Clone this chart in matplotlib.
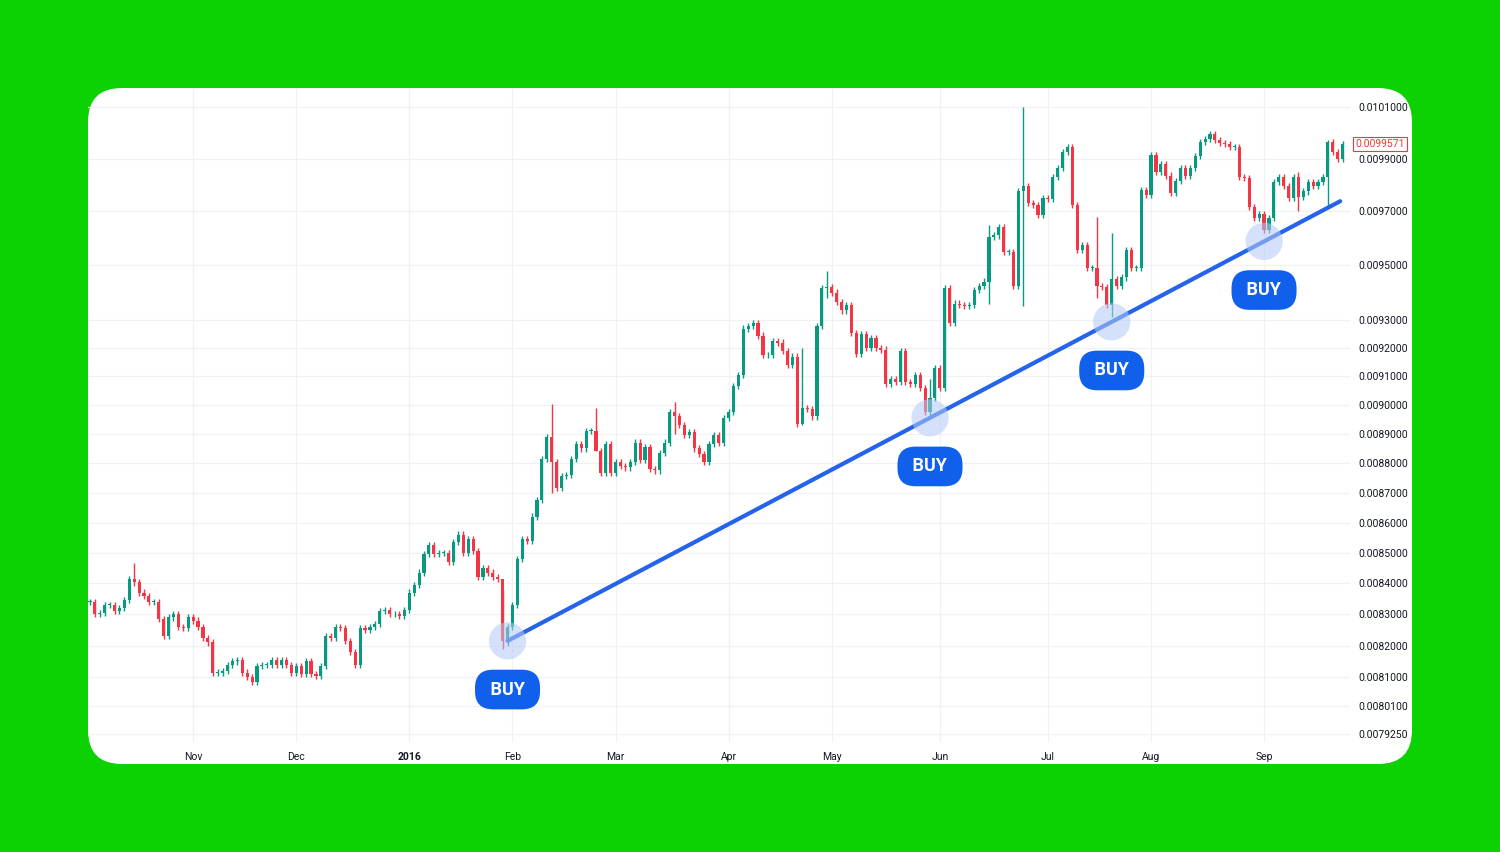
import numpy as np
import pandas as pd
import matplotlib
matplotlib.use("Agg")
import matplotlib.pyplot as plt
from matplotlib.patches import FancyBboxPatch, Rectangle
from matplotlib.transforms import IdentityTransform
from matplotlib.ticker import FixedLocator, NullLocator

plt.rcParams['font.family'] = ['Roboto', 'DejaVu Sans']

# closes in units of 1e-6
closes_e6 = [
 8340,8300,8305,8330,8330,8310,8320,8345,8415,8405,8370,8360,8340,8340,8285,8230,8290,8300,8260,8255,
 8290,8280,8260,8225,8210,8115,8115,8120,8140,8150,8155,8115,8100,8085,8135,8140,8140,8155,8140,8155,
 8140,8115,8135,8110,8150,8110,8105,8135,8230,8225,8260,8255,8215,8180,8140,8255,8250,8260,8270,8310,
 8315,8300,8300,8295,8315,8370,8395,8435,8495,8525,8495,8500,8500,8470,8535,8560,8500,8545,8505,8420,
 8450,8435,8420,8415,8215,8260,8330,8480,8545,
 8540,8620,8675,8815,8890,8805,8715,8755,8760,8815,8865,8850,8910,8910,8840,8765,8865,8765,8805,8790,
 8785,8805,8870,8810,8855,8780,8775,8835,8870,8975,8960,8930,8895,8905,8850,8830,8805,8865,8895,8870,
 8955,8975,9065,9105,9270,9280,9290,9245,9175,9175,9225,9220,9190,9140,9170,8935,8990,8985,8960,9280,
 9415,9420,9400,9365,9335,9355,9255,9180,9250,9200,9235,9200,9195,9075,9090,9080,9190,9080,9075,9105,
 9060,8975,9025,9130,9060,
 9415,9290,9360,9355,9350,9355,9410,9425,9440,9605,9610,9640,9550,9550,9425,9775,9795,9730,9725,9685,
 9750,9745,9830,9865,9925,9945,9725,9555,9575,9490,9490,9425,9420,9355,9450,9425,9455,9555,9490,9490,
 9780,9760,9915,9850,9880,9835,9770,9815,9865,9835,9865,9910,9965,9975,9995,9970,9960,9955,9945,9945,
 9830,9825,9715,9675,9690,9630,9675,9810,9830,9795,9750,9830,9755,9775,9810,9795,9810,9830,9965,9925,
 9900,9957.1,
]
# notable long wicks (index: (high_e6, low_e6))
wicks_e6 = {9: (8465, 8390), 84: (8380, 8190), 85: (8270, 8200), 94: (9005, 8700), 103: (8990, 8840),
            119: (9010, 8900), 145: (9200, 8930), 150: (9480, 9380), 171: (9090, 8960),
            190: (10100, 9350), 183: (9650, 9360), 208: (9620, 9310), 205: (9680, 9380),
            246: (9850, 9700), 252: (9970, 9720)}
yticks_e6 = [7925, 8010, 8100, 8200, 8300, 8400, 8500, 8600, 8700, 8800, 8900, 9000,
             9100, 9200, 9300, 9500, 9700, 9900, 10100]
end_date = '2016-09-23'
buy_idx = [85, 171, 208, 239]
trend_start = (85, 8215)
trend_end = (254.5, 9738)
last_price = 0.0099571

closes = np.array(closes_e6) / 1e6
n = len(closes)
opens = np.concatenate([[closes[0]], closes[:-1]])
dates = pd.bdate_range(end=end_date, periods=n)

W, H = 1500, 852
fig = plt.figure(figsize=(W/100, H/100), dpi=100)
fig.patch.set_facecolor('#0CD102')
panel = FancyBboxPatch((88, 88), 1412-88, 764-88, boxstyle="round,pad=0,rounding_size=34",
                       transform=IdentityTransform(), facecolor='white', edgecolor='none', zorder=-10)
fig.patches.append(panel)

ax = fig.add_axes([88/W, (H-742)/H, (1350-88)/W, (742-89)/H])
ax.set_zorder(5)
ax.set_facecolor('none')
ax.set_yscale('log')
ax.set_xlim(-0.4, n - 1 + 1.5)
ax.set_ylim(0.00790, 0.01017)

up, dn = '#089981', '#F23645'
for i in range(n):
    o, c = opens[i], closes[i]
    col = up if c >= o else dn
    hi, lo = max(o, c), min(o, c)
    if i in wicks_e6:
        hi, lo = wicks_e6[i][0]/1e6, wicks_e6[i][1]/1e6
    else:
        hi, lo = hi*1.0012, lo*0.9988
    ax.vlines(i, lo, hi, color=col, lw=1.0, zorder=3)
    bh = abs(c - o) if abs(c - o) > 0 else o*0.0002
    ax.add_patch(Rectangle((i-0.32, min(o, c)), 0.64, bh, facecolor=col, edgecolor='none', zorder=4))

# grid
ax.yaxis.set_major_locator(FixedLocator([v/1e6 for v in yticks_e6]))
ax.yaxis.set_minor_locator(NullLocator())
ax.set_yticklabels([f"{v/1e6:.7f}" for v in yticks_e6])
ax.yaxis.tick_right()
ax.tick_params(axis='y', length=0, labelsize=7.5, labelcolor='#131722', pad=6)
month_idx, month_lab = [], []
for i in range(1, n):
    if dates[i].month != dates[i-1].month:
        month_idx.append(i)
        month_lab.append('2016' if dates[i].month == 1 else dates[i].strftime('%b'))
ax.set_xticks(month_idx)
ax.set_xticklabels(month_lab)
for t in ax.get_xticklabels():
    if t.get_text() == '2016':
        t.set_fontweight('bold')
ax.tick_params(axis='x', length=0, labelsize=7.5, labelcolor='#131722', pad=7)
ax.grid(True, color='#f0f1f4', lw=0.9, zorder=0)
ax.set_axisbelow(True)
for s in ax.spines.values():
    s.set_visible(False)

# trendline
def trend(x):
    x0, p0 = trend_start; x1, p1 = trend_end
    return np.exp(np.log(p0/1e6) + (x - x0)/(x1 - x0)*(np.log(p1/1e6) - np.log(p0/1e6)))
tx = np.array([trend_start[0], trend_end[0]])
ax.plot(tx, trend(tx), color='#2563EB', lw=3, solid_capstyle='round', zorder=5)

for bi in buy_idx:
    ax.scatter([bi], [trend(bi)], s=720, color='#B4CAF6', alpha=0.55, edgecolors='none', zorder=6)
    ax.annotate(' BUY ', (bi, trend(bi)), xytext=(0, -35), textcoords='offset points',
                ha='center', va='center', color='white', fontsize=13, fontweight='bold',
                bbox=dict(boxstyle='round,pad=0.6,rounding_size=1.0', fc='#1160EB', ec='none'),
                zorder=8)

ax.annotate(f"{last_price:.7f}", (1.0, last_price), xycoords=('axes fraction', 'data'),
            xytext=(4, 0), textcoords='offset points', ha='left', va='center',
            color='#F23645', fontsize=7.5,
            bbox=dict(boxstyle='square,pad=0.2', fc='white', ec='#F23645', lw=0.8), zorder=9,
            annotation_clip=False)

fig.savefig('out.png', dpi=100, facecolor=fig.get_facecolor())
